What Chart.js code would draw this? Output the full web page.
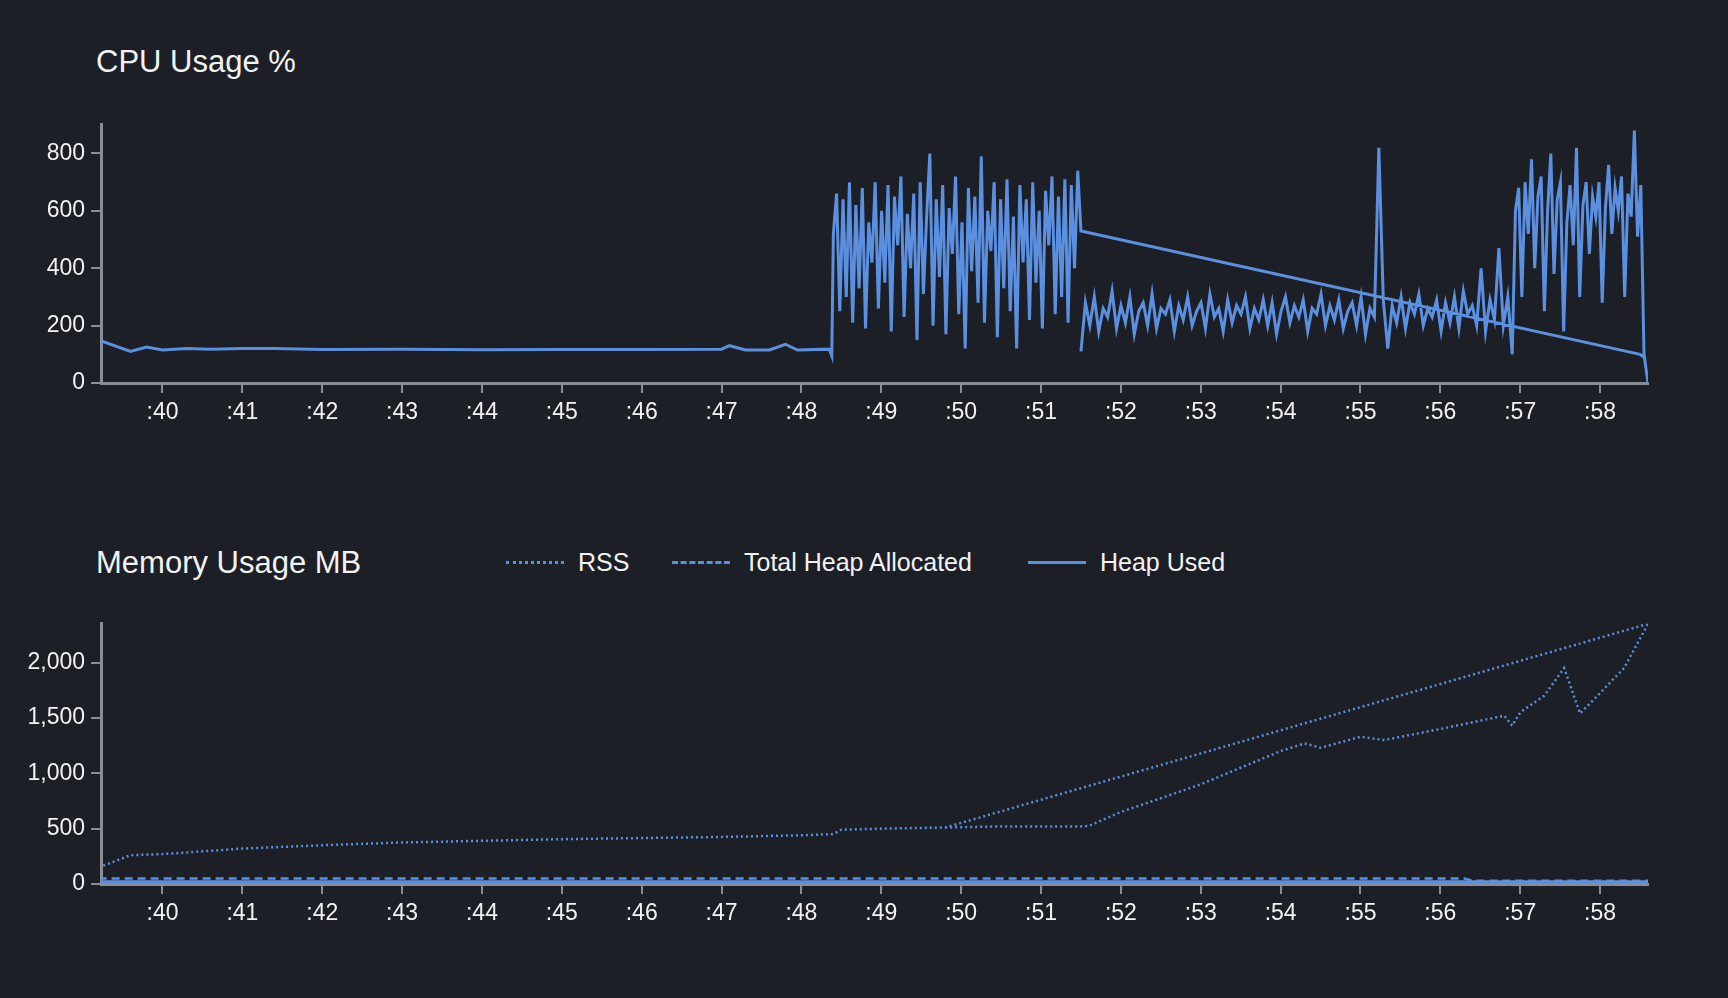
<!DOCTYPE html>
<html>
<head>
<meta charset="utf-8">
<script src="https://cdn.jsdelivr.net/npm/chart.js@4"></script>
<style>
  body { margin:0; background:#1c1f26; width:1728px; height:998px; overflow:hidden; font-family:"Liberation Sans", Arial, sans-serif; color:#f2f2f2; }
  .title { position:absolute; font-size:31px; }
  .wrap { position:absolute; left:0; width:1728px; }
  .leg { position:absolute; top:548px; font-size:25px; display:flex; align-items:center; }
  .leg i { display:inline-block; width:58px; border-top:3px solid #5b8fe0; margin-right:14px; }
</style>
</head>
<body>
<div class="title" style="left:96px;top:44px">CPU Usage %</div>
<div class="wrap" style="top:105px;height:323px"><canvas id="cpuChart"></canvas></div>

<div class="title" style="left:96px;top:545px">Memory Usage MB</div>
<div class="leg" style="left:506px"><i style="border-top-style:dotted"></i>RSS</div>
<div class="leg" style="left:672px"><i style="border-top-style:dashed"></i>Total Heap Allocated</div>
<div class="leg" style="left:1028px"><i></i>Heap Used</div>
<div class="wrap" style="top:604px;height:325px"><canvas id="memChart"></canvas></div>

<script>
// tiempos en segundos (minuto :39 - :58)
const xTicks = [40, 41, 42, 43, 44, 45, 46, 47, 48, 49, 50, 51, 52, 53, 54, 55, 56, 57, 58];
const cpuTicks = [0, 200, 400, 600, 800];
const memTicks = [0, 500, 1000, 1500, 2000];

// CPU - tramo tranquilo
const cpuCalmX = [39.2, 39.6, 39.8, 40.0, 40.3, 40.6, 41.0, 41.4, 42.0, 43.0, 44.0, 45.0, 46.0, 47.0, 47.1, 47.3, 47.6, 47.8, 47.95, 48.35, 48.38];
const cpuCalmY = [150, 110, 125, 115, 120, 118, 120, 120, 117, 118, 116, 117, 117, 118, 130, 115, 115, 135, 115, 118, 95];

// CPU - tramos ruidosos (inicio, fin, valores)
const cpuBurst1 = [48.4, 51.5, [520,660,250,640,300,700,210,620,330,680,190,560,420,700,260,600,350,690,180,650,480,720,230,590,400,660,150,700,310,580,800,200,640,370,690,170,610,450,720,240,560,120,680,390,650,280,790,210,600,460,700,160,640,330,710,250,580,120,690,420,640,220,700,350,600,190,670,480,720,240,650,300,710,210,690,400,740,530]];
const cpuJump = [[58.5, 100], [58.55, 90]];
const cpuBurst2 = [51.5, 56.9, [110,280,200,300,180,260,230,320,190,270,210,300,170,250,280,200,310,190,260,240,290,180,270,220,300,200,250,280,190,310,230,260,180,290,210,270,240,300,190,260,220,290,200,280,170,250,300,210,270,230,290,180,260,240,310,200,270,220,290,190,250,280,200,300,170,260,230,820,290,120,270,210,300,190,280,240,310,200,260,230,290,180,280,210,300,190,320,240,270,200,400,180,290,220,470,200,300,100]];
const cpuBurst3 = [56.9, 58.55, [100,600,680,300,700,520,780,400,650,720,250,600,800,380,640,700,180,560,690,480,820,300,620,700,450,650,580,700,280,610,760,520,680,600,720,300,660,580,880,510,690,100]];
const cpuEnd = [[58.6, 0]];

// Memoria
const rssX = [39.2, 39.6, 40, 41, 42, 43, 44, 45, 46, 47, 48, 48.4, 48.5, 49, 49.8, 58.6];
const rssY = [150, 260, 270, 320, 350, 375, 390, 405, 415, 425, 440, 450, 490, 500, 510, 2350];
const rss2X = [49.8, 50.5, 51.5, 51.6, 52, 53, 54, 54.3, 54.5, 55, 55.3, 56, 56.8, 56.9, 57, 57.3, 57.55, 57.75, 57.9, 58.3, 58.6];
const rss2Y = [510, 520, 520, 525, 650, 900, 1200, 1270, 1230, 1330, 1300, 1400, 1520, 1430, 1550, 1700, 1950, 1540, 1650, 1950, 2350];
const heapTotalX = [39.2, 56.3, 56.4, 58.6];
const heapTotalY = [50, 50, 30, 30];
const heapUsedX = [39.2, 58.6];
const heapUsedY = [20, 20];

const lineColor = '#5b8fe0';
const axisColor = '#8a8d93';
const textColor = '#f2f2f2';

function pts(xs, ys) { return xs.map((x, i) => ({ x: x, y: ys[i] })); }
function burst(seg) {
    const [a, b, vals] = seg;
    return vals.map((v, i) => ({ x: a + (b - a) * i / (vals.length - 1), y: v }));
}

function axes(yMax, yTicks) {
    return {
        x: {
            type: 'linear', min: 39.23, max: 58.6,
            afterBuildTicks: s => { s.ticks = xTicks.map(v => ({ value: v })); },
            ticks: { color: textColor, font: { size: 23 }, padding: 6, callback: v => ':' + v },
            grid: { drawOnChartArea: false, color: axisColor, tickLength: 10, lineWidth: 2 },
            border: { color: axisColor, width: 3 },
            afterFit: s => { s.height = 45; }
        },
        y: {
            min: 0, max: yMax,
            afterBuildTicks: s => { s.ticks = yTicks.map(v => ({ value: v })); },
            ticks: { color: textColor, font: { size: 23 }, padding: 6, callback: v => v.toLocaleString('en-US') },
            grid: { drawOnChartArea: false, color: axisColor, tickLength: 10, lineWidth: 2 },
            border: { color: axisColor, width: 3 },
            afterFit: s => { s.width = 101; }
        }
    };
}

const common = {
    responsive: true, maintainAspectRatio: false, animation: false,
    layout: { padding: { top: 10, right: 80, left: 0, bottom: 0 } },
    plugins: { legend: { display: false }, tooltip: { enabled: false } },
    elements: { point: { radius: 0 }, line: { borderWidth: 3, tension: 0 } }
};

const cpuData = [].concat(
    pts(cpuCalmX, cpuCalmY), burst(cpuBurst1),
    cpuJump.map(p => ({ x: p[0], y: p[1] })),
    [{ x: 58.56, y: null }],
    burst(cpuBurst2), burst(cpuBurst3),
    cpuEnd.map(p => ({ x: p[0], y: p[1] }))
);

new Chart(document.getElementById('cpuChart'), {
    type: 'line',
    data: { datasets: [{ data: cpuData, borderColor: lineColor, spanGaps: false }] },
    options: Object.assign({}, common, { scales: axes(900, cpuTicks) })
});

new Chart(document.getElementById('memChart'), {
    type: 'line',
    data: {
        datasets: [
            { label: 'RSS', data: pts(rssX, rssY).concat([{ x: 58.61, y: null }], pts(rss2X, rss2Y)), borderColor: lineColor, borderDash: [2, 3], borderWidth: 2.5 },
            { label: 'Total Heap Allocated', data: pts(heapTotalX, heapTotalY), borderColor: lineColor, borderDash: [8, 5], borderWidth: 2.5 },
            { label: 'Heap Used', data: pts(heapUsedX, heapUsedY), borderColor: lineColor }
        ]
    },
    options: Object.assign({}, common, { scales: axes(2350, memTicks) })
});
</script>
</body>
</html>
